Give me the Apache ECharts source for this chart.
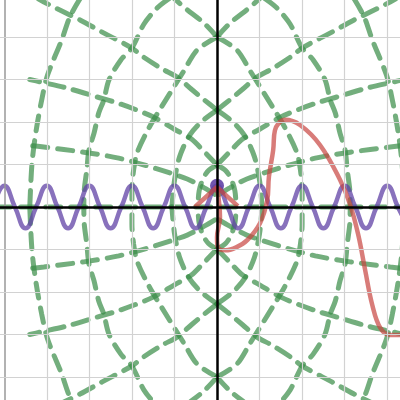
<!DOCTYPE html>
<html>
<head>
<meta charset="utf-8">
<script src="https://cdn.jsdelivr.net/npm/echarts@6/dist/echarts.min.js"></script>
<style>
  html, body { margin: 0; padding: 0; background: #fff; }
  #chart { width: 400px; height: 400px; }
</style>
</head>
<body>
<div id="chart"></div>
<script>
// grid lines (units)
var gridX = [-5, -4, -3, -2, -1, 1, 2, 3, 4];
var gridY = [-4, -3, -2, -1, 1, 2, 3, 4];

// green dashed curves, first quadrant only (mirrored to the others)
var lens1 = [[0,0.99],[0.2,0.86],[0.33,0.66],[0.42,0.38],[0.45,0]];
var lens2 = [[0,2.28],[0.35,2.02],[0.65,1.68],[0.88,1.18],[1.0,0.62],[1.06,0]];
var lens3 = [[0,4.0],[0.47,3.69],[0.78,3.2],[1.32,2.33],[1.6,1.86],[1.88,1.27],[1.96,0.87],[2.0,0.4],[2.0,0]];
var lens4 = [[1.13,4.9],[1.41,4.68],[1.72,4.3],[2.0,3.74],[2.26,3.46],[2.54,2.99],[2.66,2.52],[2.78,2.21],[2.89,1.74],[3.01,1.34],[3.06,0.87],[3.12,0.4],[3.13,0]];
var lens5 = [[3.22,4.9],[3.46,4.47],[3.65,3.93],[3.98,3.11],[4.12,2.52],[4.26,1.74],[4.35,1.0],[4.4,0]];
var spoke1 = [[0.05,0.3],[0.3,0.45],[0.7,0.66],[1.48,0.92],[2.31,1.15],[3.13,1.29],[4.07,1.41],[4.4,1.45]];
var spoke2 = [[0,0.99],[0.3,1.3],[0.6,1.6],[1.0,1.83],[1.5,2.12],[1.88,2.28],[2.35,2.45],[2.82,2.59],[3.53,2.8],[4.14,2.94],[4.4,3.0]];
var spoke3 = [[0,2.28],[0.3,2.52],[0.6,2.77],[0.94,3.06],[1.29,3.25],[1.76,3.55],[2.0,3.74],[2.71,4.12],[3.22,4.4],[3.93,4.75],[4.2,4.9]];
var spoke4 = [[0,4.0],[0.31,4.33],[0.75,4.68],[1.0,4.9]];
var greenCurves = [lens1, lens2, lens3, lens4, lens5, spoke1, spoke2, spoke3, spoke4];
var xAxisLine = [[-5.2,0],[4.4,0]];

// purple wave, read at quarter steps
var waveX = [-5.25,-5,-4.75,-4.5,-4.25,-4,-3.75,-3.5,-3.25,-3,-2.75,-2.5,-2.25,-2,-1.75,-1.5,-1.25,-1,-0.75,-0.5,-0.25,0,0.25,0.5,0.75,1,1.25,1.5,1.75,2,2.25,2.5,2.75,3,3.25,3.5,3.75,4,4.25,4.5];
var waveY = [0,0.5,0,-0.5,0,0.5,0,-0.5,0,0.5,0,-0.5,0,0.5,0,-0.5,0,0.5,0,-0.5,0,0.5,0,-0.5,0,0.5,0,-0.5,0,0.5,0,-0.5,0,0.5,0,-0.5,0,0.5,0,-0.5];
var dot = [[0, 0.5]];

// red curve
var arrow = [[-0.52,0],[0,0.47],[0.49,0.02]];
var redPath = [[0,0.47],[0.07,-0.24],[0,-0.71],[0.02,-0.95],[0.2,-1.02],[0.45,-0.95],[0.71,-0.78],[1.01,-0.38],[1.18,0.16],[1.22,0.71],[1.32,1.34],[1.36,1.8],[1.6,2.05],[1.95,1.93],[2.42,1.46],[2.89,0.64],[3.13,0.05],[3.32,-0.66],[3.48,-1.48],[3.65,-2.31],[3.84,-2.85],[4.07,-3.01],[4.35,-3.01]];

var green = '#388c46', red = '#c74440', purple = '#6042a6';
var series = [];

// grid + axes as markLines on an empty series
var marks = [];
gridX.forEach(function (v) {
  marks.push({ xAxis: v, lineStyle: { color: v === -5 ? '#999' : '#d2d2d2', width: v === -5 ? 1.5 : 1.2, type: 'solid' } });
});
gridY.forEach(function (v) {
  marks.push({ yAxis: v, lineStyle: { color: '#d2d2d2', width: 1.2, type: 'solid' } });
});
marks.push({ xAxis: 0, lineStyle: { color: '#000', width: 2.5, type: 'solid' } });
marks.push({ yAxis: 0, lineStyle: { color: '#000', width: 2.5, type: 'solid' } });
series.push({
  type: 'line', data: [], silent: true,
  markLine: { symbol: 'none', label: { show: false }, animation: false, data: marks }
});

function greenLine(pts) {
  series.push({
    type: 'line', data: pts, showSymbol: false, smooth: 0.3, silent: true,
    lineStyle: { color: green, width: 5, opacity: 0.7, type: [15, 10], cap: 'round' }
  });
}
greenCurves.forEach(function (c) {
  greenLine(c);
  greenLine(c.map(function (p) { return [-p[0], p[1]]; }));
  greenLine(c.map(function (p) { return [p[0], -p[1]]; }));
  greenLine(c.map(function (p) { return [-p[0], -p[1]]; }));
});
greenLine(xAxisLine);

series.push({
  type: 'line', data: waveX.map(function (x, i) { return [x, waveY[i]]; }),
  showSymbol: false, smooth: 0.5, silent: true,
  lineStyle: { color: purple, width: 4.5, opacity: 0.75 }
});
series.push({
  type: 'scatter', data: dot, symbolSize: 14, silent: true,
  itemStyle: { color: purple, opacity: 0.9 }
});
series.push({
  type: 'line', data: arrow, showSymbol: false, silent: true,
  lineStyle: { color: red, width: 4.5, opacity: 0.7 }
});
series.push({
  type: 'line', data: redPath, showSymbol: false, smooth: 0.4, silent: true,
  lineStyle: { color: red, width: 4.5, opacity: 0.7 }
});

var chart = echarts.init(document.getElementById('chart'));
chart.setOption({
  animation: false,
  grid: { left: 0, right: 0, top: 0, bottom: 0 },
  xAxis: { type: 'value', min: -5.1, max: 4.3, show: false, splitLine: { show: false } },
  yAxis: { type: 'value', min: -4.54, max: 4.87, show: false, splitLine: { show: false } },
  series: series
});
</script>
</body>
</html>
